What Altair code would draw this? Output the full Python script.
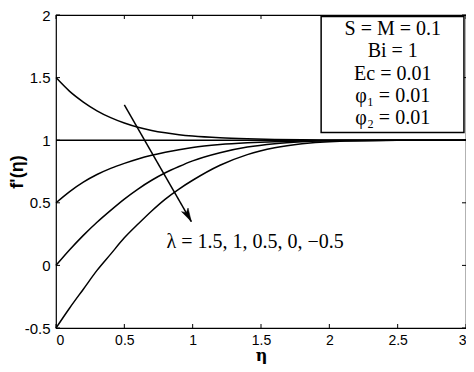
import altair as alt
import pandas as pd

eta = [0, 0.1, 0.2, 0.3, 0.4, 0.5, 0.6, 0.7, 0.8, 0.9, 1.0, 1.2, 1.4, 1.6, 1.8, 2.0, 2.5, 3.0]
f_l15 = [1.5, 1.39, 1.305, 1.235, 1.18, 1.137, 1.103, 1.078, 1.059, 1.044, 1.033, 1.019, 1.011, 1.006, 1.003, 1.002, 1.0, 1.0]
f_l10 = [1.0] * 18
f_l05 = [0.5, 0.59, 0.665, 0.726, 0.775, 0.815, 0.85, 0.879, 0.903, 0.924, 0.942, 0.965, 0.979, 0.988, 0.993, 0.996, 0.999, 1.0]
f_l00 = [0.0, 0.125, 0.24, 0.345, 0.44, 0.53, 0.61, 0.68, 0.74, 0.79, 0.835, 0.9, 0.945, 0.972, 0.987, 0.995, 1.0, 1.0]
f_lm05 = [-0.5, -0.34, -0.19, -0.04, 0.09, 0.22, 0.33, 0.435, 0.53, 0.61, 0.68, 0.8, 0.885, 0.94, 0.972, 0.988, 0.999, 1.0]
lambdas = ["1.5", "1", "0.5", "0", "-0.5"]

x_ticks = [0, 0.5, 1, 1.5, 2, 2.5, 3]
y_ticks = [-0.5, 0, 0.5, 1, 1.5, 2]

legend_lines = ["S = M = 0.1", "Bi = 1", "Ec = 0.01", "φ₁ = 0.01", "φ₂ = 0.01"]
legend_y = [1.887, 1.71, 1.532, 1.355, 1.177]

rows = []
for lam, ys in zip(lambdas, [f_l15, f_l10, f_l05, f_l00, f_lm05]):
    for e, v in zip(eta, ys):
        rows.append({"eta": e, "f": v, "lam": lam})
df = pd.DataFrame(rows)

W, H = 410, 313
xs = alt.Scale(domain=[0, 3], nice=False, zero=False)
ys_ = alt.Scale(domain=[-0.5, 2], nice=False, zero=False)

base_x = alt.X("eta:Q", scale=xs,
               axis=alt.Axis(values=x_ticks, ticks=False, grid=False, domain=False,
                             labelFont="Liberation Sans", labelFontSize=14, labelColor="black",
                             labelPadding=5, title="η", titleFont="DejaVu Serif",
                             titleFontSize=16, titleFontWeight="bold",
                             titleX=W / 2, titleY=27, titleBaseline="middle",
                             labelExpr="'' + datum.value"))
base_y = alt.Y("f:Q", scale=ys_,
               axis=alt.Axis(values=y_ticks, ticks=False, grid=False, domain=False,
                             labelFont="Liberation Sans", labelFontSize=15, labelColor="black",
                             labelPadding=6, title="f'(η)", titleFont="Liberation Sans",
                             titleFontSize=18, titleFontWeight="bold",
                             titleX=-39, titleY=H / 2, titleAngle=-90, titleBaseline="middle",
                             labelExpr="'' + datum.value"))

lines = alt.Chart(df).mark_line(color="black", strokeWidth=1.5, interpolate="monotone").encode(
    x=base_x, y=base_y, detail="lam:N")

# inward ticks
xt = pd.DataFrame({"eta": x_ticks})
yt = pd.DataFrame({"f": y_ticks})
tick_bot = alt.Chart(xt).mark_rule(color="black", strokeWidth=1).encode(
    x=alt.X("eta:Q", scale=xs), y=alt.value(H), y2=alt.value(H - 4))
tick_top = alt.Chart(xt).mark_rule(color="black", strokeWidth=1).encode(
    x=alt.X("eta:Q", scale=xs), y=alt.value(0), y2=alt.value(4))
tick_left = alt.Chart(yt).mark_rule(color="black", strokeWidth=1).encode(
    y=alt.Y("f:Q", scale=ys_), x=alt.value(0), x2=alt.value(4))
tick_right = alt.Chart(yt).mark_rule(color="black", strokeWidth=1).encode(
    y=alt.Y("f:Q", scale=ys_), x=alt.value(W), x2=alt.value(W - 4))

# arrow
arrow_df = pd.DataFrame({"eta": [0.5, 0.99], "f": [1.283, 0.35]})
shaft = alt.Chart(arrow_df).mark_line(color="black", strokeWidth=1.5).encode(
    x=alt.X("eta:Q", scale=xs), y=alt.Y("f:Q", scale=ys_))
head = alt.Chart(pd.DataFrame({"eta": [0.99], "f": [0.35]})).mark_point(
    shape="M0,0 L-0.55,2 L0,1.5 L0.55,2 Z", filled=True, fill="black", stroke="black",
    strokeWidth=0.5, opacity=1, size=180, angle=151).encode(
    x=alt.X("eta:Q", scale=xs), y=alt.Y("f:Q", scale=ys_))

ann = alt.Chart(pd.DataFrame({"eta": [1.457], "f": [0.19], "t": ["λ = 1.5, 1, 0.5, 0, −0.5"]})).mark_text(
    font="Liberation Serif", fontSize=20, color="black", align="center", baseline="middle").encode(
    x=alt.X("eta:Q", scale=xs), y=alt.Y("f:Q", scale=ys_), text="t:N")

box = alt.Chart(pd.DataFrame({"x1": [1.94], "x2": [2.985], "y1": [1.062], "y2": [1.988]})).mark_rect(
    fill="white", stroke="black", strokeWidth=1.5).encode(
    x=alt.X("x1:Q", scale=xs), x2="x2:Q", y=alt.Y("y1:Q", scale=ys_), y2="y2:Q")

leg = alt.Chart(pd.DataFrame({"eta": [2.464] * 5, "f": legend_y, "t": legend_lines})).mark_text(
    font="Liberation Serif", fontSize=20, color="black", align="center", baseline="middle").encode(
    x=alt.X("eta:Q", scale=xs), y=alt.Y("f:Q", scale=ys_), text="t:N")

chart = alt.layer(lines, tick_bot, tick_top, tick_left, tick_right, shaft, head, ann, box, leg).properties(
    width=W, height=H,
    autosize=alt.AutoSizeParams(type="none"),
    padding={"left": 48, "top": 7, "right": 0, "bottom": 36},
    background="white",
).configure_view(stroke="black", strokeWidth=1.2)

chart.save("out.html", embed_options={"renderer": "svg", "actions": False})
